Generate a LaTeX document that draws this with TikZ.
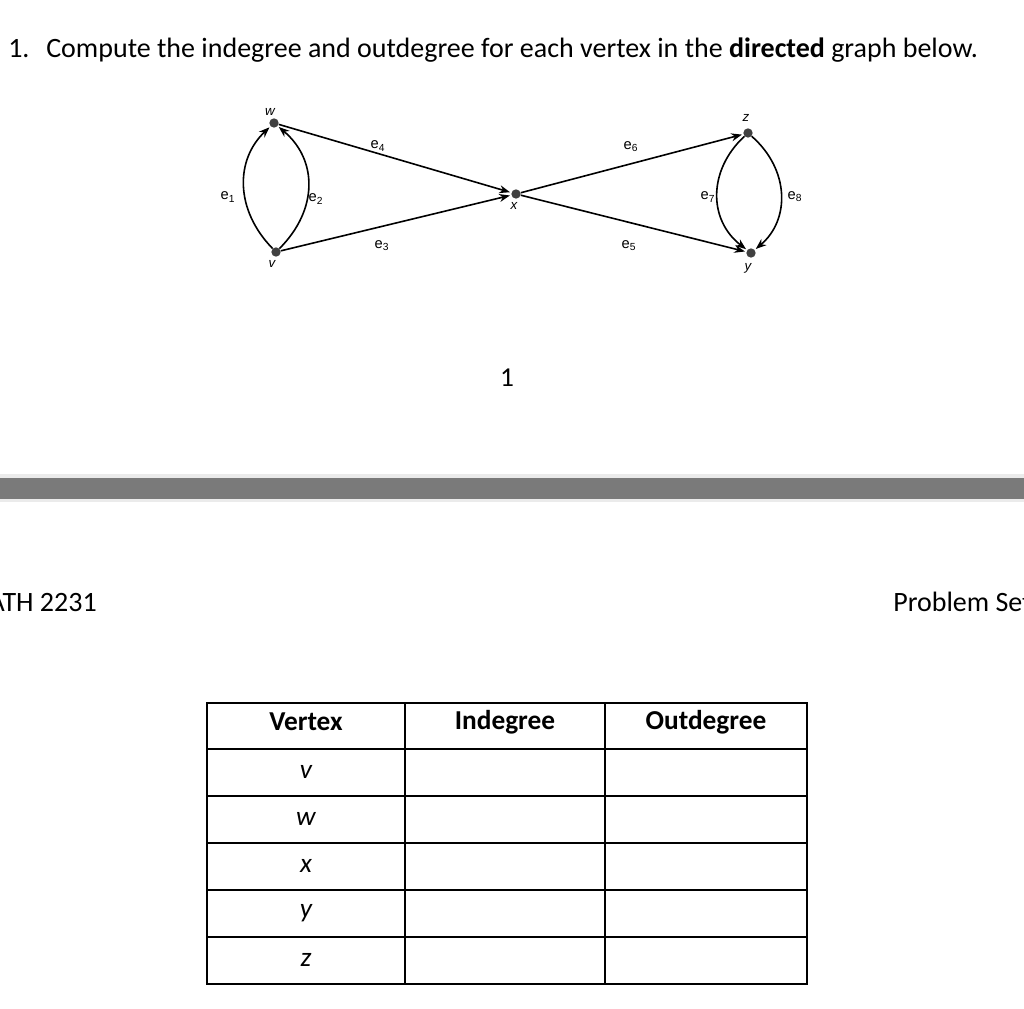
\documentclass[tikz,border=0pt]{standalone}
\usepackage{fontspec}
\setmainfont{Carlito}
\newfontfamily\gfont{Liberation Sans}
\usetikzlibrary{arrows.meta}
\begin{document}
\begin{tikzpicture}[x=0.75pt,y=-0.75pt,
  vert/.style={circle,fill=black!75,inner sep=0pt,minimum size=7pt},
  edge/.style={line width=1.2pt,-{Stealth[length=8pt,width=6pt]},shorten >=1pt},
  elab/.style={font=\gfont\fontsize{11}{13}\selectfont},
  vlab/.style={font=\gfont\itshape\fontsize{10}{12}\selectfont},
  txt/.style={font=\fontsize{21}{24}\selectfont,inner sep=0pt},
  cell/.style={font=\fontsize{20.5}{24}\selectfont}]
\useasboundingbox (0,0) rectangle (1024,1009);
\clip (0,0) rectangle (1024,1009);
\node[txt,anchor=base west] (title) at (8,58) {1.\hspace{0.6em}Compute the indegree and outdegree for each vertex in the \textbf{directed} graph below.};
% graph
\node[vert] (w) at (274,123) {};
\node[vert] (v) at (276,252) {};
\node[vert] (x) at (516,194) {};
\node[vert] (z) at (748,133) {};
\node[vert] (y) at (751,253) {};
\node[vlab] at (270,112) {w};
\node[vlab] at (272,264) {v};
\node[vlab] at (514,206) {x};
\node[vlab] at (746,118) {z};
\node[vlab] at (748,268) {y};
\draw[edge] (v) .. controls (235,210) and (235,160) .. (w);
\draw[edge] (v) .. controls (318,210) and (318,160) .. (w);
\draw[edge] (w) -- (x);
\draw[edge] (v) -- (x);
\draw[edge] (x) -- (y);
\draw[edge] (x) -- (z);
\draw[edge] (z) .. controls (708,170) and (708,220) .. (y);
\draw[edge] (z) .. controls (790,170) and (790,220) .. (y);
\node[elab] at (228,197) {e\textsubscript{1}};
\node[elab] at (316,199) {e\textsubscript{2}};
\node[elab] at (382,246) {e\textsubscript{3}};
\node[elab] at (378,146) {e\textsubscript{4}};
\node[elab] at (629,246) {e\textsubscript{5}};
\node[elab] at (631,147) {e\textsubscript{6}};
\node[elab] at (708,197) {e\textsubscript{7}};
\node[elab] at (795,197) {e\textsubscript{8}};
\node[cell] (one) at (507,378) {1};
% bar
\fill[black!8] (0,474) rectangle (1024,502);
\fill[black!52] (0,478) rectangle (1024,499);
\node[txt,anchor=base east] (math) at (97,611) {MATH 2231};
\node[txt,anchor=base west] (ps) at (893,611) {Problem Set};
% table
\draw[line width=0.8pt] (207,703) rectangle (807,984);
\foreach \yy in {749,796,843,890,937} \draw[line width=0.8pt] (207,\yy) -- (807,\yy);
\foreach \xx in {405,605} \draw[line width=0.8pt] (\xx,703) -- (\xx,984);
\node[cell,font=\bfseries\fontsize{20.5}{24}\selectfont] (h1) at (306,722) {Vertex};
\node[cell,font=\bfseries\fontsize{20.5}{24}\selectfont] (h2) at (505,722) {Indegree};
\node[cell,font=\bfseries\fontsize{20.5}{24}\selectfont] (h3) at (706,722) {Outdegree};
\foreach \t/\yy in {v/772,w/819,x/866,y/913,z/960}
  \node[cell,font=\itshape\fontsize{20.5}{24}\selectfont] at (306,\yy) {\t};
\end{tikzpicture}
\end{document}
